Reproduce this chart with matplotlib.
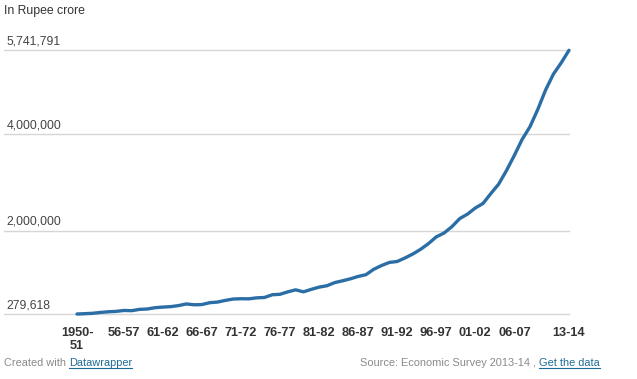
import matplotlib
matplotlib.use("Agg")
import matplotlib.pyplot as plt
from matplotlib.lines import Line2D

plt.rcParams["font.family"] = ["Liberation Sans", "DejaVu Sans"]

# GDP at factor cost, 2004-05 prices (Rs crore), 1950-51 .. 2013-14
YEARS = [f"{y}-{str(y + 1)[-2:]}" for y in range(1950, 2014)]
GDP = [
    279618, 286147, 294267, 312177, 325431, 333766, 352766, 348500, 374948, 383153,
    410279, 423011, 431960, 453829, 488177, 470402, 475190, 513860, 526938, 561630,
    589787, 595741, 593843, 613974, 621753, 677961, 688323, 738973, 780003, 738733,
    790045, 836051, 865095, 930019, 967131, 1008226, 1057607, 1094016, 1206243, 1283711,
    1347889, 1367171, 1440504, 1522344, 1619694, 1737741, 1876319, 1957032, 2087828, 2254942,
    2348481, 2474962, 2570935, 2775749, 2971464, 3253073, 3564364, 3896636, 4158676, 4516071,
    4918533, 5247530, 5482111, 5741791,
]
TICK_POS = [0, 6, 11, 16, 21, 26, 31, 36, 41, 46, 51, 56, 63]
TICK_LABELS = ["1950-\n51", "56-57", "61-62", "66-67", "71-72", "76-77", "81-82",
               "86-87", "91-92", "96-97", "01-02", "06-07", "13-14"]
GRID_VALUES = [279618, 2000000, 4000000, 5741791]

W, H = 637, 379
fig = plt.figure(figsize=(W / 100, H / 100), dpi=100)

# axes placed in pixel terms
left, right, top, bottom = 4, 569, 50.3, 314
ax = fig.add_axes([left / W, 1 - bottom / H, (right - left) / W, (bottom - top) / H])
px_per_step = (569 - 77) / 63
ax.set_xlim(-(77 - left) / px_per_step, 63)
ax.set_ylim(GRID_VALUES[0], GRID_VALUES[-1])

for v in GRID_VALUES:
    ax.axhline(v, color="#d6d6d6", linewidth=1.0, zorder=1, clip_on=False)
    ax.annotate(f"{v:,}", xy=(0.004, v), xycoords=ax.get_yaxis_transform(),
                xytext=(0, 4.3), textcoords="offset points",
                fontsize=8.8, color="#444444", va="baseline", ha="left")

ax.plot(range(len(GDP)), GDP, color="#2b6ea6", linewidth=2.4,
        solid_capstyle="round", solid_joinstyle="round", zorder=3, clip_on=False)

ax.set_xticks(TICK_POS)
ax.set_xticklabels(TICK_LABELS, fontweight="bold", fontsize=9.2, color="#333333",
                   linespacing=1.05)
ax.tick_params(axis="x", length=0, pad=9.5)
ax.set_yticks([])
for s in ax.spines.values():
    s.set_visible(False)

fig.text(4 / W, 1 - 11 / H, "In Rupee crore", fontsize=8.8, color="#333333",
         ha="left", va="center")

renderer = fig.canvas.get_renderer()
FOOT_SIZE = 7.95


def link(x_px, y_px, text):
    t = fig.text(x_px / W, 1 - y_px / H, text, fontsize=FOOT_SIZE, color="#1f6c98",
                 ha="left", va="baseline")
    bb = t.get_window_extent(renderer)
    fig.add_artist(Line2D([bb.x0 / W, bb.x1 / W], [1 - (y_px + 1.5) / H] * 2,
                          color="#1f6c98", linewidth=0.8))
    return t


fig.text(4 / W, 1 - 366 / H, "Created with", fontsize=FOOT_SIZE, color="#8a8a8a",
         ha="left", va="baseline")
link(69, 366, "Datawrapper")

fig.text(536 / W, 1 - 366 / H, "Source: Economic Survey 2013-14 ,", fontsize=FOOT_SIZE,
         color="#8a8a8a", ha="right", va="baseline")
link(539, 366, "Get the data")

fig.savefig("out.png", dpi=100, facecolor="white")
